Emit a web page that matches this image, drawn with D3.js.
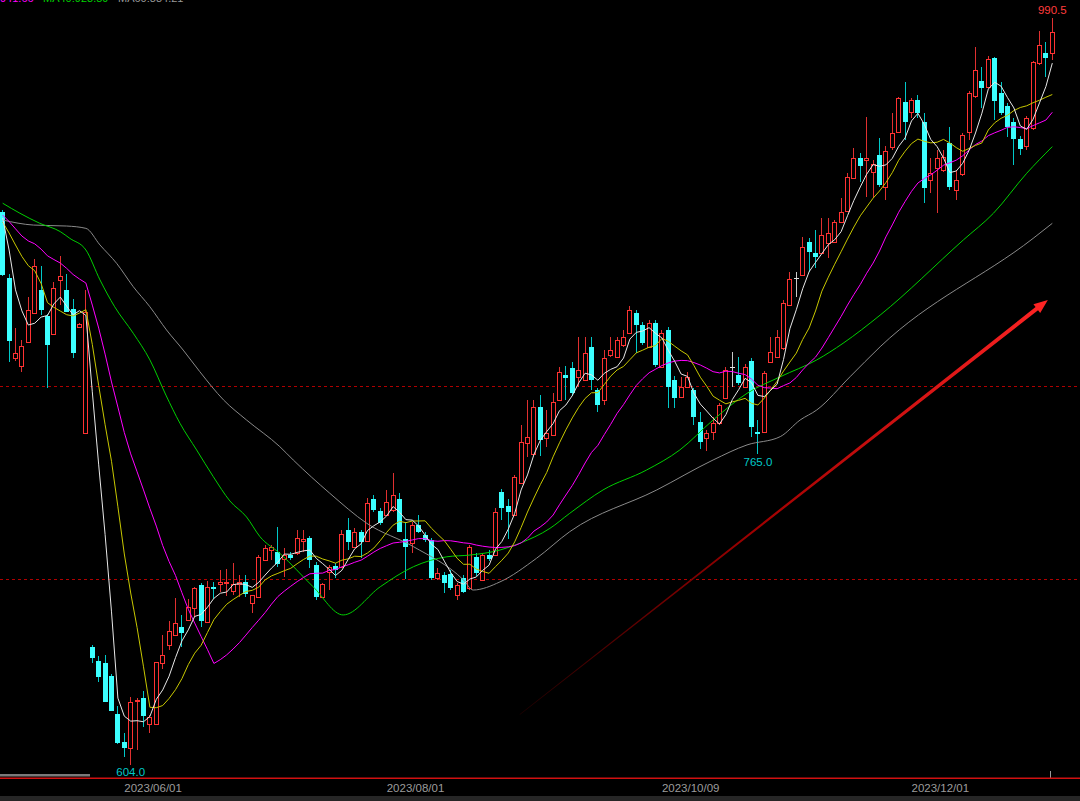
<!DOCTYPE html>
<html><head><meta charset="utf-8">
<script src="https://cdn.jsdelivr.net/npm/d3@7"></script>
<style>
html,body{margin:0;padding:0;background:#000;overflow:hidden}
svg{display:block}
</style></head><body>
<svg id="chart" width="1080" height="801"></svg>
<script>
// ---- data ----
const opens = [
890.1,855.7,814.3,810.5,822.6,837.6,849.7,836.2,826.9,854.9,
849.7,839.9,830.7,775.7,664.8,657.8,656.5,649.9,630.2,615.6,
612.5,637.0,638.4,625.0,625.0,656.5,666.0,671.1,675.1,678.9,
685.0,697.0,678.0,696.2,697.3,697.8,694.1,697.5,698.4,687.8,
690.9,709.9,715.1,714.1,710.3,712.5,713.4,719.8,721.2,707.4,
690.9,703.9,706.8,706.2,725.5,716.8,724.6,719.8,741.5,735.3,
733.2,735.8,741.5,720.8,718.6,728.1,722.9,720.3,700.5,702.2,
702.5,691.8,700.5,695.3,711.7,699.6,712.5,712.5,745.3,737.9,
733.2,749.6,770.7,764.8,789.0,773.0,774.6,792.8,805.7,809.3,
804.5,803.1,820.3,797.9,792.8,816.1,815.2,821.2,827.6,837.9,
831.6,820.3,832.5,810.0,829.0,803.1,794.5,799.6,797.9,781.5,
773.0,776.4,780.7,793.6,810.0,805.7,799.6,812.9,776.2,776.4,
812.6,815.2,819.5,841.9,856.1,857.5,874.7,868.7,868.7,873.9,
874.7,885.0,890.6,907.7,917.9,917.0,910.9,919.6,903.2,923.9,
931.6,947.2,942.0,948.0,936.8,906.6,912.7,911.8,925.6,901.5,
909.7,931.6,950.1,957.9,954.9,969.6,951.8,944.9,936.8,927.9,
924.2,933.4,967.0,972.2,972.2];
const highs = [
891.1,858.0,829.9,823.8,845.9,865.7,862.1,837.3,854.0,867.3,
858.0,845.0,832.6,849.7,665.9,660.2,660.8,650.9,634.4,620.6,
638.9,638.5,642.3,629.7,657.1,671.1,678.5,690.1,681.5,689.8,
696.2,698.0,699.1,698.7,704.8,705.3,708.2,702.2,702.2,691.8,
712.5,717.7,717.7,727.0,716.0,714.1,725.5,725.5,722.4,708.9,
698.0,707.4,708.2,725.5,731.5,726.5,725.5,741.9,743.6,736.9,
746.2,754.8,744.6,729.8,729.8,733.2,724.4,721.3,705.8,703.7,
704.8,698.0,702.2,717.7,713.6,713.6,715.1,736.9,746.7,741.4,
753.9,779.8,792.8,792.8,795.4,787.6,796.5,810.0,810.4,812.4,
825.5,825.5,825.5,799.0,818.6,825.5,825.5,829.0,841.4,839.3,
833.1,834.2,834.2,829.0,830.5,805.2,804.8,807.3,799.0,786.7,
777.2,784.1,791.2,810.0,817.8,815.2,811.4,814.5,782.4,807.8,
825.5,829.0,844.5,859.2,859.2,877.3,876.6,880.8,886.8,886.8,
885.9,897.2,910.3,923.0,920.4,939.1,917.0,928.2,924.2,941.2,
949.7,957.5,949.1,950.6,941.2,917.9,922.2,922.2,934.2,911.8,
931.0,952.7,975.6,965.3,970.8,970.3,957.5,946.5,938.6,929.4,
939.8,968.2,983.8,977.9,990.5];
const lows = [
856.9,812.6,813.1,807.1,822.3,837.3,836.8,798.8,826.4,841.9,
838.3,814.3,830.5,775.7,656.5,647.0,636.4,631.8,614.7,608.1,
604.0,611.6,623.7,620.2,624.8,653.5,663.4,670.6,665.1,678.4,
680.6,675.4,677.8,689.6,693.4,691.3,691.8,690.9,690.9,682.3,
690.8,709.7,709.9,706.5,701.3,709.9,712.5,714.2,705.7,689.2,
690.8,694.4,700.5,705.8,715.1,716.2,710.8,719.3,734.8,728.1,
732.7,734.8,724.4,700.0,713.4,723.9,719.3,699.6,699.6,692.7,
694.4,689.2,692.9,694.4,701.7,699.1,709.4,712.0,730.7,720.7,
732.7,749.3,763.4,764.3,763.8,768.6,774.1,792.2,792.8,794.8,
799.6,802.6,797.9,786.7,790.2,815.0,814.5,820.2,826.9,816.9,
821.2,819.7,809.8,809.3,788.5,788.5,793.8,799.0,779.8,767.5,
766.5,772.1,779.8,793.3,799.6,800.5,799.0,773.8,765.0,776.2,
811.9,814.5,818.6,841.4,846.2,856.9,859.2,860.9,868.3,866.1,
874.0,884.4,890.1,907.2,905.8,897.8,897.2,903.2,896.3,922.2,
931.0,927.3,938.7,938.7,894.6,899.7,889.4,910.8,901.5,896.3,
908.7,927.3,949.1,943.7,954.3,937.7,940.3,929.0,914.4,919.6,
922.2,932.5,966.2,960.1,968.7];
const closes = [
857.5,823.4,816.9,820.7,839.3,862.1,839.3,821.2,850.6,856.9,
838.5,816.9,832.1,838.3,659.1,649.5,636.6,631.9,615.1,612.5,
636.6,637.7,629.2,628.8,656.9,660.8,673.3,677.2,672.0,685.6,
695.6,678.4,696.0,694.9,698.7,698.8,697.4,698.7,692.2,691.8,
711.7,716.3,716.7,707.9,712.5,711.0,721.2,720.8,709.9,690.9,
697.5,706.5,704.8,723.4,719.4,724.6,719.4,739.3,735.8,729.3,
740.1,743.6,724.6,716.5,728.1,724.6,720.3,700.5,703.4,697.9,
695.3,697.0,693.5,716.8,703.1,712.5,710.5,735.0,736.7,735.0,
753.1,771.2,773.8,789.3,772.1,775.5,791.9,807.4,804.0,796.4,
808.3,816.9,803.1,790.2,814.3,818.6,823.8,825.5,839.3,831.6,
822.1,832.5,810.9,827.3,799.6,793.6,799.6,804.8,784.1,771.2,
775.5,780.7,790.2,808.3,810.0,801.4,810.0,779.0,775.4,806.9,
817.8,825.5,842.8,855.2,856.1,872.1,869.5,866.9,878.2,879.0,
885.0,890.2,908.3,917.9,913.9,917.9,914.9,904.0,921.6,930.8,
948.9,936.8,948.0,941.2,902.3,910.1,917.9,918.7,903.2,906.6,
929.9,951.5,963.6,954.4,969.1,947.5,941.2,934.2,927.7,922.5,
938.6,967.5,976.5,969.9,983.1];
// closes before the visible window (estimated from where the short averages start)
const priorCloses = [890,893,895,890,892,894,891,889,893,894,880,879,880,887,888,906,920,875,876];
// long averages as [candle index, price]
const ma40Knots = [[0,894.6],[2.7,889.4],[5.8,884.2],[9,879.9],[10.5,876.4],[13,870.4],[15.2,854.9],[17.5,841],[20.4,827.3],[23,813.5],[25.5,795.3],[27.7,780.7],[30.3,766.9],[32.9,753.1],[35.5,740.5],[38.1,732.2],[40.2,722],[43.3,713.4],[48.5,696.1],[53.2,681.5],[59,696.1],[64.2,706.5],[69.4,711.6],[73,712.5],[77.7,715.1],[80.8,718.6],[85.5,726.3],[88.6,734.1],[93.8,746.2],[100.6,756.5],[105.8,766.9],[111,782.4],[116.3,796.2],[121.5,804.8],[127.2,813.5],[131.3,822.1],[137.1,836.7],[150.1,875.6],[154.8,889.4],[160,910.1],[164,923.9]];
const ma60Knots = [[0,885.9],[4.8,883.3],[10,882.8],[13,881.6],[15.2,873],[17.8,863.5],[20.4,851.4],[23,841],[25.6,829],[28.2,818.6],[30.8,807.4],[34.5,792.8],[38.1,782.4],[43.3,768.6],[45.4,761.7],[51.1,744.5],[56.9,728.9],[64.2,716.8],[72,699.6],[73.5,694.4],[77.7,698.6],[83.4,710.8],[88.6,724.6],[102.2,746.2],[111,761.7],[116.3,769.5],[121.5,773.8],[124.6,782.4],[127.2,787.6],[132.4,804.8],[137.1,820.3],[161,876.4],[164,884.2]];
const maPeriods = [5, 10, 20];
const tickIndex = [23, 64, 107, 146];
const tickLabels = ["2023/06/01", "2023/08/01", "2023/10/09", "2023/12/01"];
const refLevels = [800, 700];
const localLowIndex = [118];
const arrowFrom = [80.8, 630];
const arrowTo = [163.3, 844.5];
const legendTexts = ["941.66", "MA40:923.89", "MA60:884.21"];

// ---- drawing ----
const W = 1080, H = 801;
const N = closes.length;
const x = d3.scaleLinear().domain([0, N - 1]).range([2.7, 1052.3]);
const y = d3.scaleLinear().domain([600, 1000]).range([772.4, -0.4]);
const svg = d3.select("#chart");
svg.append("rect").attr("width", W).attr("height", H).attr("fill", "#000");

const FONT = "'Liberation Sans', Arial, sans-serif";
const RED = "#ff3232", RED_WICK = "#e03030";
const CYAN = "#3cffff", CYAN_WICK = "#00c8c8";

// reference dashed levels
svg.append("g").selectAll("line").data(refLevels).join("line")
  .attr("x1", 0).attr("x2", W)
  .attr("y1", d => Math.round(y(d)) + 0.5).attr("y2", d => Math.round(y(d)) + 0.5)
  .attr("stroke", "#b00000").attr("stroke-width", 1).attr("stroke-dasharray", "3,3")
  .attr("shape-rendering", "crispEdges");

// candles
const cg = svg.append("g").attr("shape-rendering", "crispEdges");
d3.range(N).forEach(i => {
  const o = opens[i], c = closes[i], h = highs[i], l = lows[i];
  const xl = Math.round(x(i) - 2.5);
  const xm = xl + 2.5;
  const yT = Math.round(y(Math.max(o, c))), yB = Math.round(y(Math.min(o, c)));
  const yH = Math.round(y(h)), yL = Math.round(y(l));
  if (c > o) {
    if (yH < yT) cg.append("line").attr("x1", xm).attr("x2", xm).attr("y1", yH).attr("y2", yT).attr("stroke", RED_WICK);
    if (yL > yB) cg.append("line").attr("x1", xm).attr("x2", xm).attr("y1", yB).attr("y2", yL).attr("stroke", RED_WICK);
    cg.append("rect").attr("x", xl + 0.5).attr("y", yT + 0.5).attr("width", 4)
      .attr("height", Math.max(yB - yT, 1)).attr("fill", "#000").attr("stroke", RED);
  } else if (c < o) {
    cg.append("line").attr("x1", xm).attr("x2", xm).attr("y1", yH).attr("y2", yL).attr("stroke", CYAN_WICK);
    cg.append("rect").attr("x", xl).attr("y", yT).attr("width", 5)
      .attr("height", Math.max(yB - yT, 1)).attr("fill", CYAN);
  } else {
    cg.append("line").attr("x1", xm).attr("x2", xm).attr("y1", yH).attr("y2", yL).attr("stroke", "#c8c8c8");
    cg.append("line").attr("x1", xl).attr("x2", xl + 5).attr("y1", yT + 0.5).attr("y2", yT + 0.5).attr("stroke", "#e0e0e0");
  }
});

// moving averages from closes
const all = priorCloses.concat(closes);
const P = priorCloses.length;
function ma(n) {
  return d3.range(N).map(i => [i, d3.mean(all.slice(P + i - n + 1, P + i + 1))]);
}
const maColors = ["#e8e8e8", "#c8c800", "#ff00ff"];
const line = d3.line().x(d => x(d[0])).y(d => y(d[1]));
const smooth = d3.line().x(d => x(d[0])).y(d => y(d[1])).curve(d3.curveMonotoneX);
const lg = svg.append("g").attr("fill", "none").attr("stroke-width", 1);
lg.append("path").attr("d", smooth(ma60Knots)).attr("stroke", "#8a8a8a");
lg.append("path").attr("d", smooth(ma40Knots)).attr("stroke", "#00d000");
maPeriods.slice().reverse().forEach((n, k) => {
  const idx = maPeriods.length - 1 - k;
  lg.append("path").attr("d", line(ma(n))).attr("stroke", maColors[idx]);
});

// high / low annotations
const iMin = d3.minIndex(lows), iMax = d3.maxIndex(highs);
const ann = svg.append("g").attr("font-family", FONT).attr("font-size", 11.5).attr("text-anchor", "middle");
ann.append("text").attr("x", x(iMin)).attr("y", y(lows[iMin]) + 11.5).attr("fill", "#00c8c8").text(lows[iMin].toFixed(1));
localLowIndex.forEach(i => {
  ann.append("text").attr("x", x(i)).attr("y", y(lows[i]) + 12).attr("fill", "#00c8c8").text(lows[i].toFixed(1));
});
ann.append("text").attr("x", x(iMax)).attr("y", y(highs[iMax]) - 3.5).attr("fill", "#ff3c3c").text(highs[iMax].toFixed(1));

// arrow
const a0 = [x(arrowFrom[0]), y(arrowFrom[1])], a1 = [x(arrowTo[0]), y(arrowTo[1])];
const dx = a1[0] - a0[0], dy = a1[1] - a0[1], len = Math.hypot(dx, dy);
const ux = dx / len, uy = dy / len, nx = -uy, ny = ux;
const headLen = 14, headW = 5.5, w0 = 0.3, w1 = 2.0;
const b = [a1[0] - ux * headLen, a1[1] - uy * headLen];
const pts = [
  [a0[0] + nx * w0, a0[1] + ny * w0], [b[0] + nx * w1, b[1] + ny * w1], [b[0] + nx * headW, b[1] + ny * headW],
  a1, [b[0] - nx * headW, b[1] - ny * headW], [b[0] - nx * w1, b[1] - ny * w1], [a0[0] - nx * w0, a0[1] - ny * w0]
];
const defs = svg.append("defs");
const grad = defs.append("linearGradient").attr("id", "ag").attr("gradientUnits", "userSpaceOnUse")
  .attr("x1", a0[0]).attr("y1", a0[1]).attr("x2", a1[0]).attr("y2", a1[1]);
grad.append("stop").attr("offset", 0).attr("stop-color", "#200000");
grad.append("stop").attr("offset", 0.45).attr("stop-color", "#a00000");
grad.append("stop").attr("offset", 1).attr("stop-color", "#ff2424");
svg.append("polygon").attr("points", pts.map(p => p.join(",")).join(" ")).attr("fill", "url(#ag)");

// bottom axis area
svg.append("rect").attr("x", 0).attr("y", 774).attr("width", 90).attr("height", 2.5).attr("fill", "#7a7a7a");
svg.append("line").attr("x1", 1050.5).attr("x2", 1050.5).attr("y1", 771).attr("y2", 778).attr("stroke", "#9a9a9a");
svg.append("rect").attr("x", 0).attr("y", 777.5).attr("width", W).attr("height", 1.5).attr("fill", "#d01010");
svg.append("rect").attr("x", 0).attr("y", 796).attr("width", W).attr("height", 5).attr("fill", "#262626");
svg.append("g").attr("font-family", FONT).attr("font-size", 11.5).attr("fill", "#9c9c9c").attr("text-anchor", "middle")
  .selectAll("text").data(tickIndex).join("text")
  .attr("x", d => x(d + 0.5)).attr("y", 792).text((d, k) => tickLabels[k]);

// top legend (cut off by the top edge, as in the reference)
const legX = [0, 43, 118], legC = ["#ff00ff", "#00d000", "#9a9a9a"];
svg.append("g").attr("font-family", FONT).attr("font-size", 11)
  .selectAll("text").data(legendTexts).join("text")
  .attr("x", (d, k) => legX[k]).attr("y", 2).attr("fill", (d, k) => legC[k]).text(d => d);
</script>
</body></html>
